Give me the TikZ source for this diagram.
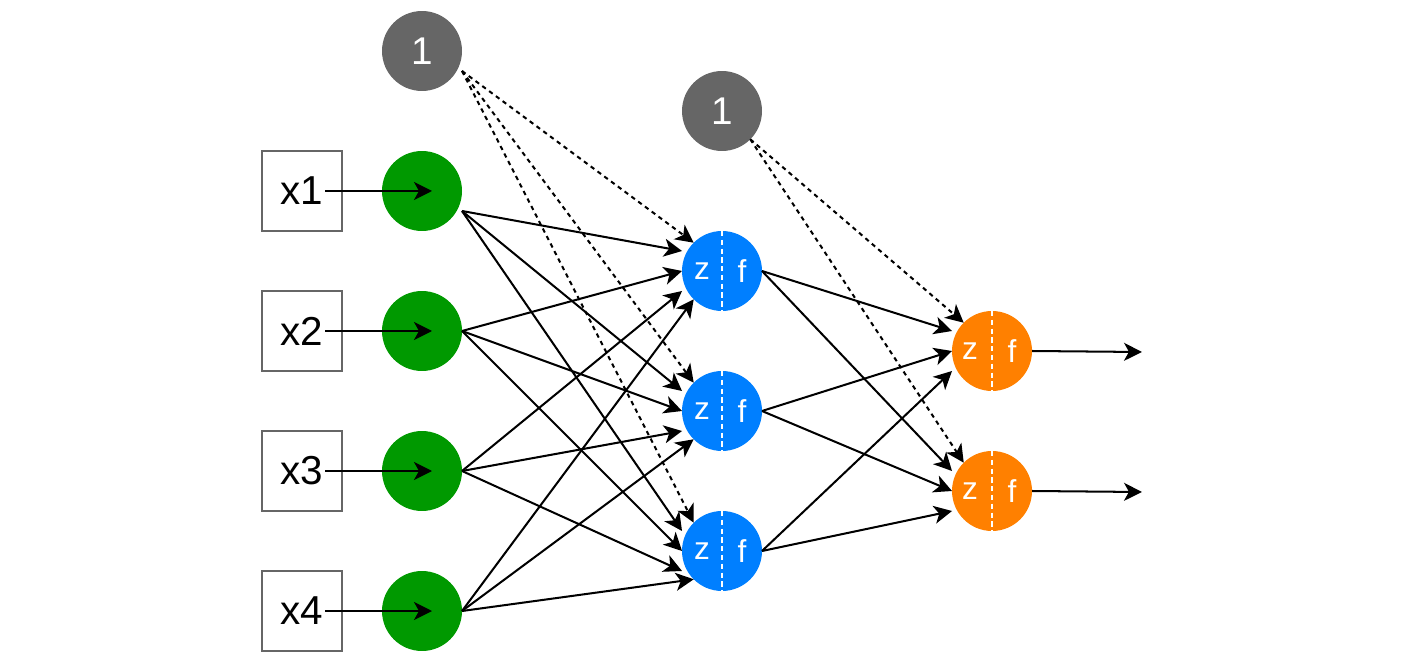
\documentclass[tikz,border=0pt]{standalone}
\usepackage{fontspec}
\setmainfont{Liberation Sans}
\usepackage{tikz}
\usetikzlibrary{arrows.meta}
\definecolor{ingreen}{HTML}{009900}
\definecolor{hidblue}{HTML}{007FFF}
\definecolor{outorange}{HTML}{FF8000}
\definecolor{biasgray}{HTML}{666666}
\tikzset{
	biasline/.style={dash pattern=on 2.5pt off 2.3pt},
	splitline/.style={white,line width=1pt,dash pattern=on 3pt off 2pt},
}

\begin{document}
\begin{tikzpicture}[x=0.02cm,y=-0.02cm,line width=1.15pt,>={Stealth[length=0.36cm,width=0.36cm,inset=0.1cm]}]
			\useasboundingbox (0,0) rectangle (1425,668);
			\begin{scope}[shape=circle,minimum size=1.6cm,inner sep=0pt,outer sep=0pt]
			\tikzstyle{every node}=[draw=none,text=white,font=\fontsize{22}{25}\selectfont]
			\node[fill=biasgray] (b_1) at (422,51) {1};
			\node[fill=biasgray] (b_2) at (722,111) {1};
			\foreach \x in {1,...,4} {
				\node[fill=ingreen] (g_\x) at (422,{51+140*\x}) {};
			}
			\foreach \x in {1,2,3} {
				\node[fill=hidblue] (h_\x) at (722,{131+140*\x}) {};
			}
			\foreach \x in {1,2} {
				\node[fill=outorange] (o_\x) at (992,{211+140*\x}) {};
			}
			\end{scope}
			% inputs
			\foreach \x in {1,...,4} {
				\node[draw=biasgray,line width=0.9pt,minimum size=1.6cm,outer sep=0pt,font=\fontsize{23}{26}\selectfont] (in_\x) at (302,{51+140*\x}) {x\x};
				\draw [->] ([xshift=0.46cm]in_\x.center) -- ([xshift=0.2cm]g_\x.center);
			}
			% z | f
			\foreach \x in {1,2,3} {
				\draw [splitline] (h_\x.north) -- (h_\x.south);
				\node[text=white,font=\fontsize{18}{20}\selectfont] (hz_\x) at ([xshift=-0.4cm]h_\x.center) {z};
				\node[text=white,font=\fontsize{18}{20}\selectfont] (hf_\x) at ([xshift=0.4cm]h_\x.center) {f};
				\coordinate (h_\x-1) at ([yshift=0.4cm]h_\x.west);
				\coordinate (h_\x-2) at (h_\x.west);
				\coordinate (h_\x-3) at ([yshift=-0.4cm]h_\x.west);
				\coordinate (h_\x-4) at (h_\x.south west);
			}
			\foreach \x in {1,2} {
				\draw [splitline] (o_\x.north) -- (o_\x.south);
				\node[text=white,font=\fontsize{18}{20}\selectfont] (oz_\x) at ([xshift=-0.44cm]o_\x.center) {z};
				\node[text=white,font=\fontsize{18}{20}\selectfont] (of_\x) at ([xshift=0.4cm]o_\x.center) {f};
				\coordinate (o_\x-1) at ([yshift=0.4cm]o_\x.west);
				\coordinate (o_\x-2) at (o_\x.west);
				\coordinate (o_\x-3) at ([yshift=-0.4cm]o_\x.west);
				\coordinate (out_\x) at ([xshift=2.2cm,yshift=-0.02cm]o_\x.east);
			}
			\coordinate (gout_1) at ([yshift=-0.4cm]g_1.east);
			\foreach \x in {2,3,4} {
				\coordinate (gout_\x) at (g_\x.east);
			}
			\coordinate (bout_1) at ([yshift=-0.4cm]b_1.east);
			% weights
			\foreach \x in {1,...,4} {
				\foreach \y in {1,2,3} {
					\draw [->] (gout_\x) -- (h_\y-\x);
				}
			}
			\foreach \x in {1,2,3} {
				\foreach \y in {1,2} {
					\draw [->] (h_\x.east) -- (o_\y-\x);
				}
			}
			% biases
			\foreach \y in {1,2,3} {
				\draw [->,biasline] (bout_1) -- (h_\y.north west);
			}
			\foreach \y in {1,2} {
				\draw [->,biasline] (b_2.south east) -- (o_\y.north west);
				\draw [->] (o_\y.east) -- (out_\y);
			}
		\end{tikzpicture}
\end{document}
